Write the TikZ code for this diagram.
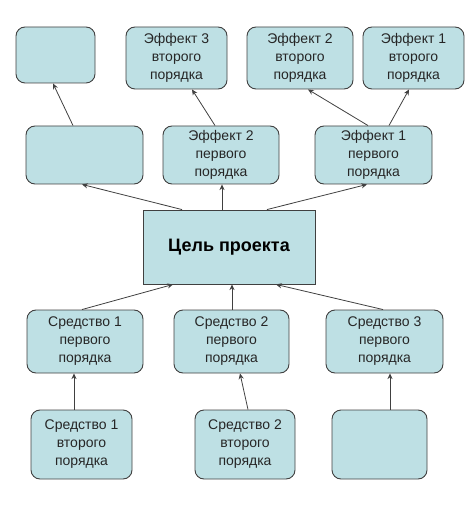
\documentclass[tikz,border=0pt]{standalone}
\usepackage{fontspec}
\setmainfont{Liberation Sans}
\usetikzlibrary{arrows.meta}
\definecolor{boxfill}{HTML}{BEE0E4}
\definecolor{boxline}{HTML}{404040}

\begin{document}
\begin{tikzpicture}[x=1pt,y=-1pt,
  box/.style={draw=boxline, line width=0.9pt, fill=boxfill, rounded corners=9pt,
    align=center, inner sep=0pt, font=\fontsize{14}{18}\selectfont, text=black!85},
  goalbox/.style={draw=boxline, line width=0.9pt, fill=boxfill,
    align=center, inner sep=0pt, font=\fontsize{18}{22}\selectfont\bfseries},
  link/.style={-{Stealth[width=1.8mm,length=2mm]}, draw=boxline, line width=0.8pt}]
\useasboundingbox (0,0) rectangle (474,526);
% second order effects
\node [box, minimum width=79pt, minimum height=56pt] (n1) at (55.5,55) {};
\node [box, minimum width=101pt, minimum height=62pt] (e32) at (176.5,58) {Эффект 3\\второго\\порядка};
\node [box, minimum width=106pt, minimum height=62pt] (e22) at (300,58) {Эффект 2\\второго\\порядка};
\node [box, minimum width=101pt, minimum height=62pt] (e12) at (413.5,58) {Эффект 1\\второго\\порядка};
% first order effects
\node [box, minimum width=117pt, minimum height=58pt] (m0) at (84.5,155) {};
\node [box, minimum width=116pt, minimum height=58pt] (e2) at (221,155) {Эффект 2\\первого\\порядка};
\node [box, minimum width=117pt, minimum height=58pt] (e1) at (373.5,155) {Эффект 1\\первого\\порядка};
% goal
\node [goalbox, minimum width=172pt, minimum height=74pt] (goal) at (229,247) {Цель проекта};
% first order means
\node [box, minimum width=116pt, minimum height=63pt] (s1) at (85,341.5) {Средство 1\\первого\\порядка};
\node [box, minimum width=115pt, minimum height=63pt] (s2) at (231.5,341.5) {Средство 2\\первого\\порядка};
\node [box, minimum width=117pt, minimum height=63pt] (s3) at (384.5,341.5) {Средство 3\\первого\\порядка};
% second order means
\node [box, minimum width=101pt, minimum height=69pt] (t1) at (81.5,444.5) {Средство 1\\второго\\порядка};
\node [box, minimum width=100pt, minimum height=69pt] (t2) at (245,444.5) {Средство 2\\второго\\порядка};
\node [box, minimum width=95pt, minimum height=69pt] (t3) at (379.5,444.5) {};
% arrows
\draw [link] ([xshift=-11.5pt]m0.north) -- ([xshift=-2.5pt]n1.south);
\draw [link] ([xshift=-6pt]e2.north) -- ([xshift=15.5pt]e32.south);
\draw [link] ([xshift=-5.5pt]e1.north) -- ([xshift=8pt]e22.south);
\draw [link] ([xshift=15.5pt]e1.north) -- ([xshift=-4.5pt]e12.south);
\draw [link] ([xshift=-47pt]goal.north) -- ([xshift=-2.5pt]m0.south);
\draw [link] ([xshift=-7pt]goal.north) -- ([xshift=1pt]e2.south);
\draw [link] ([xshift=38pt]goal.north) -- ([xshift=-6.5pt]e1.south);
\draw [link] ([xshift=-3pt]s1.north) -- ([xshift=-56pt]goal.south);
\draw [link] ([xshift=0.5pt]s2.north) -- ([xshift=3pt]goal.south);
\draw [link] ([xshift=-1.5pt]s3.north) -- ([xshift=47pt]goal.south);
\draw [link] ([xshift=-7.5pt]t1.north) -- ([xshift=-11pt]s1.south);
\draw [link] ([xshift=3pt]t2.north) -- ([xshift=8.5pt]s2.south);
\draw [link] ([xshift=10.5pt]t3.north) -- ([xshift=5.5pt]s3.south);
\end{tikzpicture}
\end{document}
